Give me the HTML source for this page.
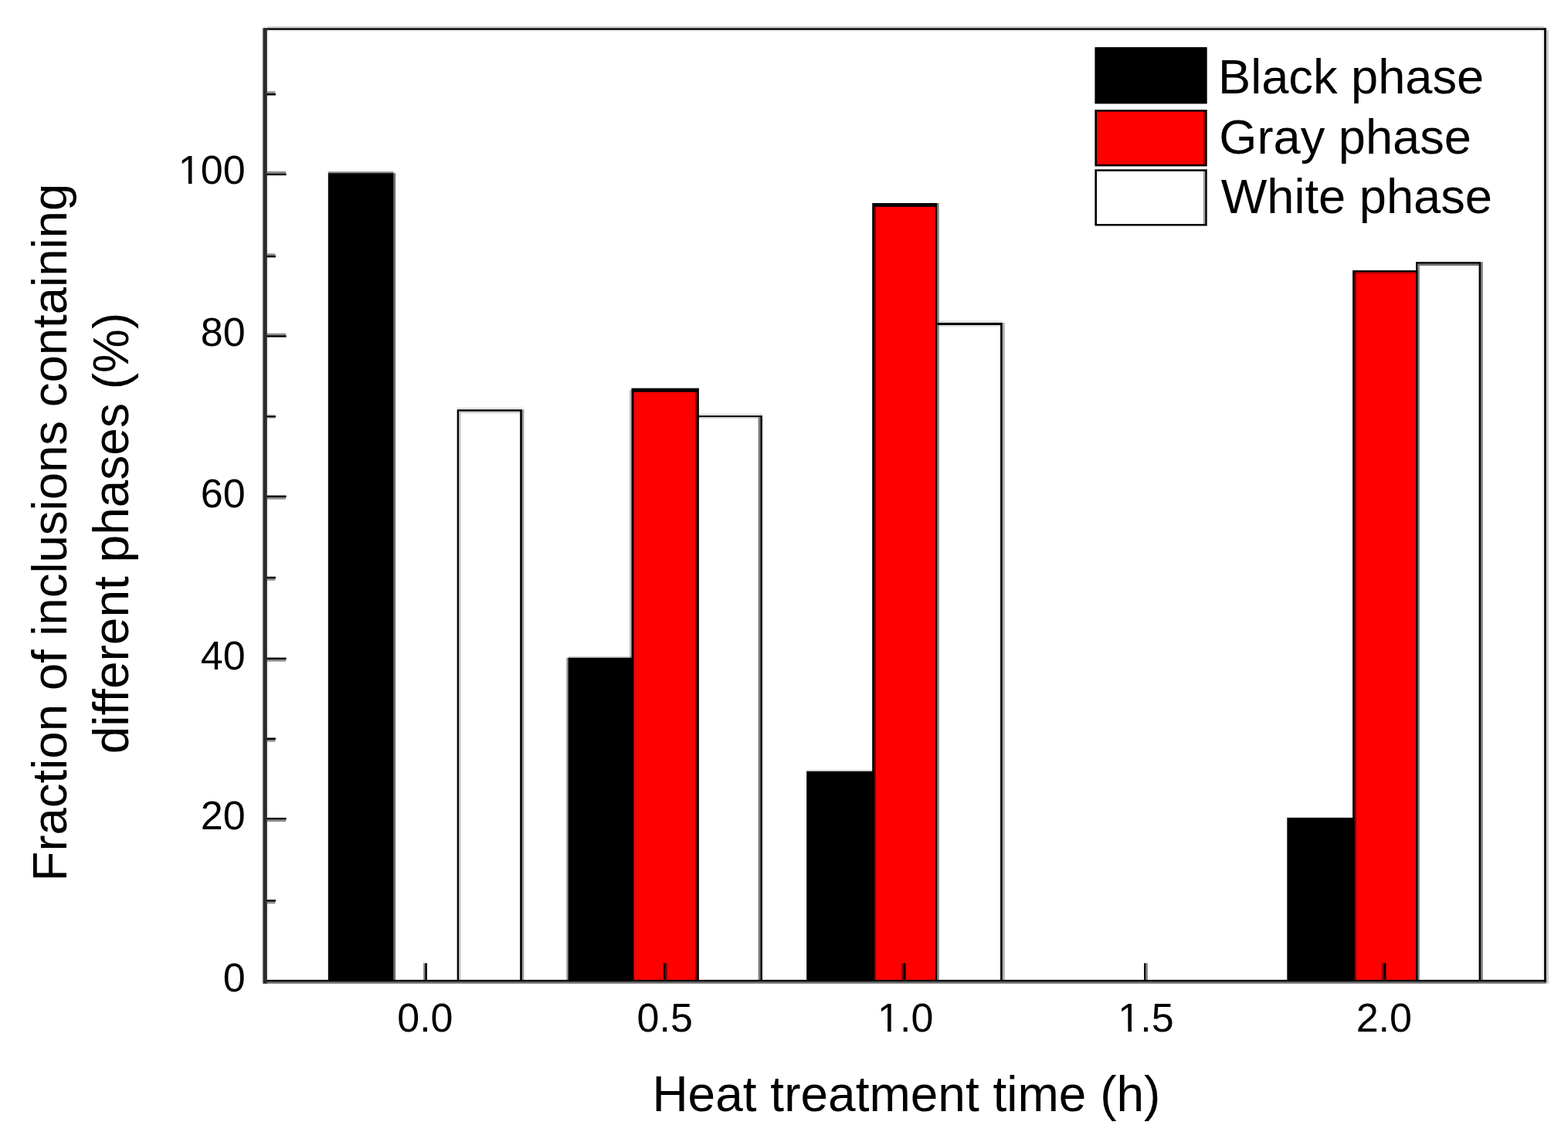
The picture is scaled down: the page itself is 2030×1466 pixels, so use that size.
<!DOCTYPE html>
<html><head><meta charset="utf-8"><title>Fraction of inclusions containing different phases</title>
<style>html,body{margin:0;padding:0;background:#fff;overflow:hidden}svg{display:block}text{font-family:"Liberation Sans",Arial,sans-serif;fill:#000}</style></head><body>
<svg width="2030" height="1466" viewBox="0 0 2030 1466">
<rect x="0.0" y="0.0" width="2030.0" height="1466.0" fill="#fff"/>
<rect x="424.8" y="224.2" width="84.8" height="1044.9" fill="#000"/>
<rect x="424.8" y="222.2" width="84.8" height="2.0" fill="#000" fill-opacity="0.45"/>
<rect x="509.6" y="224.2" width="2.6" height="1044.9" fill="#000" fill-opacity="0.55"/>
<rect x="591.7" y="530.3" width="84.2" height="738.8" fill="#000"/>
<rect x="594.1" y="532.7" width="79.1" height="736.4" fill="#fff"/>
<rect x="594.1" y="532.7" width="2.4" height="736.4" fill="#000" fill-opacity="0.22"/>
<rect x="596.5" y="532.7" width="76.7" height="2.5" fill="#000" fill-opacity="0.18"/>
<rect x="591.7" y="527.6" width="84.2" height="2.7" fill="#000" fill-opacity="0.1"/>
<rect x="675.9" y="530.3" width="2.5" height="738.8" fill="#000" fill-opacity="0.38"/>
<rect x="817.5" y="502.7" width="87.4" height="766.4" fill="#000"/>
<rect x="820.5" y="507.7" width="82.0" height="761.4" fill="#ff0000"/>
<rect x="900.3" y="507.7" width="2.2" height="761.4" fill="#000" fill-opacity="0.55"/>
<rect x="815.0" y="505.0" width="2.5" height="764.1" fill="#000" fill-opacity="0.25"/>
<rect x="902.5" y="538.2" width="84.5" height="730.9" fill="#000"/>
<rect x="904.9" y="540.2" width="79.4" height="728.9" fill="#fff"/>
<rect x="981.6" y="540.2" width="2.7" height="728.9" fill="#000" fill-opacity="0.5"/>
<rect x="904.9" y="535.6" width="82.1" height="2.6" fill="#000" fill-opacity="0.12"/>
<rect x="904.9" y="540.2" width="76.7" height="2.2" fill="#000" fill-opacity="0.12"/>
<rect x="735.5" y="851.9" width="83.5" height="417.2" fill="#000"/>
<rect x="733.3" y="851.9" width="2.2" height="417.2" fill="#000" fill-opacity="0.4"/>
<rect x="735.5" y="850.4" width="83.5" height="1.5" fill="#000" fill-opacity="0.3"/>
<rect x="1129.2" y="263.0" width="84.1" height="1006.1" fill="#000"/>
<rect x="1213.3" y="263.0" width="2.4" height="1006.1" fill="#000" fill-opacity="0.5"/>
<rect x="1131.7" y="267.9" width="79.4" height="1001.2" fill="#ff0000"/>
<rect x="1131.7" y="267.9" width="2.1" height="1001.2" fill="#000" fill-opacity="0.55"/>
<rect x="1213.3" y="418.0" width="84.5" height="851.1" fill="#000"/>
<rect x="1213.3" y="421.0" width="81.8" height="848.1" fill="#fff"/>
<rect x="1213.3" y="421.0" width="2.4" height="848.1" fill="#000" fill-opacity="0.5"/>
<rect x="1215.7" y="415.3" width="82.1" height="2.7" fill="#000" fill-opacity="0.12"/>
<rect x="1215.7" y="421.0" width="79.4" height="2.4" fill="#000" fill-opacity="0.12"/>
<rect x="1297.8" y="418.0" width="3.0" height="851.1" fill="#000" fill-opacity="0.3"/>
<rect x="1044.2" y="998.9" width="87.5" height="270.2" fill="#000"/>
<rect x="1044.2" y="997.4" width="85.0" height="1.5" fill="#000" fill-opacity="0.2"/>
<rect x="1833.0" y="339.2" width="84.0" height="929.9" fill="#000"/>
<rect x="1835.4" y="341.7" width="79.2" height="927.4" fill="#fff"/>
<rect x="1835.4" y="341.7" width="79.2" height="2.5" fill="#000" fill-opacity="0.55"/>
<rect x="1917.0" y="339.2" width="2.8" height="929.9" fill="#000" fill-opacity="0.5"/>
<rect x="1751.1" y="350.1" width="84.3" height="919.0" fill="#000"/>
<rect x="1753.6" y="352.5" width="79.4" height="916.6" fill="#ff0000"/>
<rect x="1753.6" y="352.5" width="79.4" height="2.5" fill="#000" fill-opacity="0.2"/>
<rect x="1753.6" y="352.5" width="2.1" height="916.6" fill="#000" fill-opacity="0.5"/>
<rect x="1835.4" y="344.2" width="2.4" height="924.9" fill="#000" fill-opacity="0.5"/>
<rect x="1666.3" y="1058.9" width="87.1" height="210.2" fill="#000"/>
<rect x="550.3" y="1247.3" width="2.6" height="21.8" fill="#000"/>
<rect x="548.2" y="1247.3" width="2.1" height="21.8" fill="#000" fill-opacity="0.5"/>
<rect x="859.1" y="1247.3" width="2.2" height="21.8" fill="#000"/>
<rect x="861.3" y="1247.3" width="2.4" height="21.8" fill="#000" fill-opacity="0.5"/>
<rect x="1169.9" y="1247.3" width="2.7" height="21.8" fill="#000"/>
<rect x="1167.4" y="1247.3" width="2.5" height="21.8" fill="#000" fill-opacity="0.5"/>
<rect x="1481.1" y="1247.3" width="2.2" height="21.8" fill="#000"/>
<rect x="1483.3" y="1247.3" width="2.5" height="21.8" fill="#000" fill-opacity="0.5"/>
<rect x="1792.0" y="1247.3" width="2.4" height="21.8" fill="#000"/>
<rect x="1789.3" y="1247.3" width="2.7" height="21.8" fill="#000" fill-opacity="0.5"/>
<rect x="341.0" y="121.0" width="15.9" height="2.5" fill="#000"/>
<rect x="345.8" y="118.3" width="10.6" height="2.7" fill="#000" fill-opacity="0.45"/>
<rect x="341.0" y="224.6" width="29.6" height="2.5" fill="#000"/>
<rect x="345.8" y="221.9" width="24.3" height="2.7" fill="#000" fill-opacity="0.45"/>
<rect x="341.0" y="330.9" width="15.9" height="2.5" fill="#000"/>
<rect x="345.8" y="328.3" width="10.6" height="2.6" fill="#000" fill-opacity="0.45"/>
<rect x="341.0" y="434.2" width="29.6" height="2.5" fill="#000"/>
<rect x="345.8" y="431.6" width="24.3" height="2.6" fill="#000" fill-opacity="0.45"/>
<rect x="341.0" y="538.2" width="15.9" height="2.5" fill="#000"/>
<rect x="345.8" y="536.0" width="10.6" height="2.2" fill="#000" fill-opacity="0.12"/>
<rect x="345.8" y="540.8" width="10.6" height="2.2" fill="#000" fill-opacity="0.12"/>
<rect x="341.0" y="641.6" width="29.6" height="2.5" fill="#000"/>
<rect x="345.8" y="644.1" width="24.3" height="2.6" fill="#000" fill-opacity="0.45"/>
<rect x="341.0" y="746.8" width="15.9" height="2.5" fill="#000"/>
<rect x="345.8" y="749.2" width="10.6" height="2.6" fill="#000" fill-opacity="0.45"/>
<rect x="341.0" y="851.6" width="29.6" height="2.5" fill="#000"/>
<rect x="345.8" y="854.1" width="24.3" height="2.6" fill="#000" fill-opacity="0.45"/>
<rect x="341.0" y="955.5" width="15.9" height="2.5" fill="#000"/>
<rect x="345.8" y="958.0" width="10.6" height="2.6" fill="#000" fill-opacity="0.45"/>
<rect x="341.0" y="1059.0" width="29.6" height="2.5" fill="#000"/>
<rect x="345.8" y="1061.5" width="24.3" height="2.7" fill="#000" fill-opacity="0.45"/>
<rect x="341.0" y="1165.2" width="15.9" height="2.5" fill="#000"/>
<rect x="345.8" y="1167.7" width="10.6" height="2.7" fill="#000" fill-opacity="0.45"/>
<rect x="341.0" y="36.4" width="1660.8" height="2.4" fill="#000"/>
<rect x="345.8" y="34.2" width="1653.3" height="2.2" fill="#000" fill-opacity="0.2"/>
<rect x="345.8" y="38.8" width="1653.3" height="1.8" fill="#000" fill-opacity="0.08"/>
<rect x="1999.1" y="36.4" width="2.7" height="1235.3" fill="#000"/>
<rect x="2002.2" y="38.8" width="2.6" height="1235.0" fill="#000" fill-opacity="0.22"/>
<rect x="1996.8" y="38.8" width="2.3" height="1230.1" fill="#000" fill-opacity="0.06"/>
<rect x="341.0" y="1268.9" width="1660.8" height="2.6" fill="#000"/>
<rect x="341.0" y="1271.5" width="1660.8" height="2.3" fill="#000" fill-opacity="0.58"/>
<rect x="340.7" y="36.4" width="5.1" height="1237.4" fill="#2a2a2a"/>
<rect x="339.7" y="36.4" width="1.0" height="1237.4" fill="#000" fill-opacity="0.45"/>
<text x="317.6" y="1283.8" font-size="52" text-anchor="end">0</text>
<text x="317.6" y="1073.9" font-size="52" text-anchor="end">20</text>
<text x="317.6" y="866.8" font-size="52" text-anchor="end">40</text>
<text x="317.6" y="656.8" font-size="52" text-anchor="end">60</text>
<text x="317.6" y="447.9" font-size="52" text-anchor="end">80</text>
<text x="317.6" y="238.3" font-size="52" text-anchor="end">100</text>
<text x="550.4" y="1336.2" font-size="52" text-anchor="middle">0.0</text>
<text x="860.7" y="1336.2" font-size="52" text-anchor="middle">0.5</text>
<text x="1172.2" y="1336.2" font-size="52" text-anchor="middle">1.0</text>
<text x="1483.5" y="1336.2" font-size="52" text-anchor="middle">1.5</text>
<text x="1791.8" y="1336.2" font-size="52" text-anchor="middle">2.0</text>
<text x="1173.4" y="1439" font-size="64" text-anchor="middle">Heat treatment time (h)</text>
<text transform="translate(85.9,689.6) rotate(-90)" font-size="63.5" text-anchor="middle">Fraction of inclusions containing</text>
<text transform="translate(165.8,690.5) rotate(-90)" font-size="64" text-anchor="middle">different phases (%)</text>
<rect x="1417.4" y="61.1" width="145.3" height="73.3" fill="#000"/>
<rect x="1417.4" y="142.1" width="145.3" height="73.3" fill="#000"/>
<rect x="1420.0" y="144.6" width="140.2" height="68.3" fill="#ff0000"/>
<rect x="1557.7" y="144.6" width="2.5" height="68.3" fill="#000" fill-opacity="0.4"/>
<rect x="1417.4" y="219.3" width="145.3" height="73.2" fill="#000"/>
<rect x="1420.0" y="221.8" width="140.2" height="68.2" fill="#fff"/>
<rect x="1557.7" y="221.8" width="2.5" height="68.2" fill="#000" fill-opacity="0.35"/>
<text x="1577.0" y="120.5" font-size="63.2">Black phase</text>
<text x="1578.3" y="198.6" font-size="63.2">Gray phase</text>
<text x="1580.7" y="276.0" font-size="63.2">White phase</text>
<rect x="233.4" y="233.6" width="10.5" height="5.7" fill="#fff"/>
<rect x="248.5" y="233.6" width="10.1" height="5.7" fill="#fff"/>
<rect x="1138.6" y="1331.5" width="10.5" height="5.7" fill="#fff"/>
<rect x="1153.7" y="1331.5" width="10.1" height="5.7" fill="#fff"/>
<rect x="1449.9" y="1331.5" width="10.5" height="5.7" fill="#fff"/>
<rect x="1465.0" y="1331.5" width="10.1" height="5.7" fill="#fff"/>
</svg></body></html>
